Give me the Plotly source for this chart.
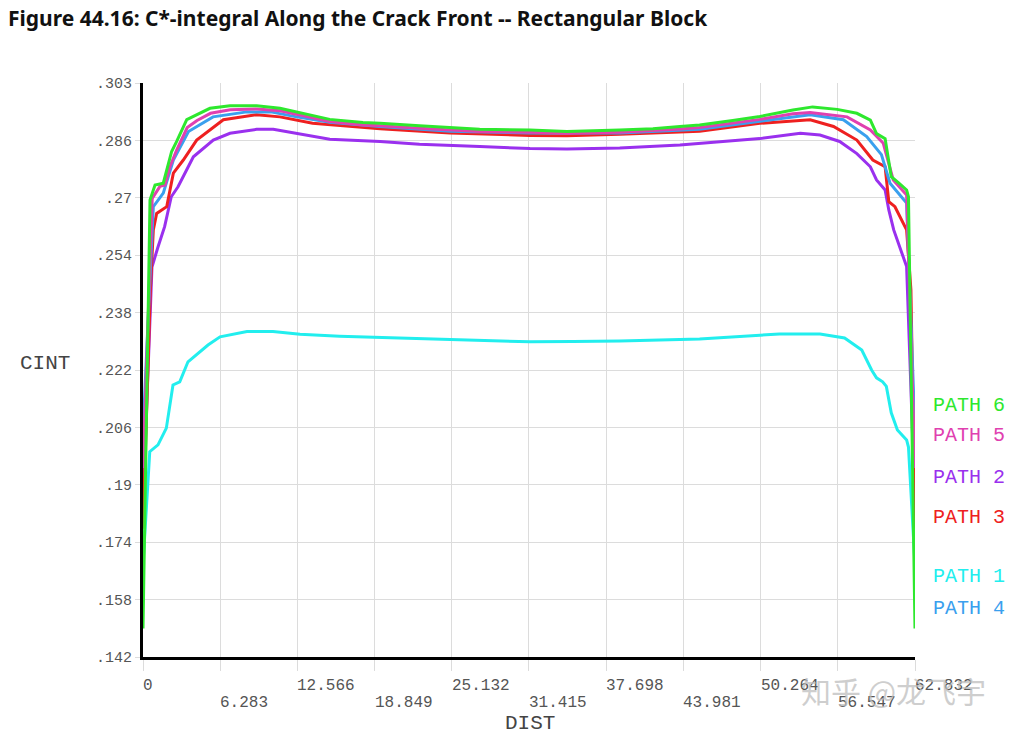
import plotly.graph_objects as go

# ---------------- data ----------------
path1_x = [0, 0.55, 1.22, 1.9, 2.44, 2.99, 3.66, 5.29, 6.27, 8.46, 10.58, 12.78, 16.0, 20.9, 26.0,
           31.5, 35.0, 38.8, 45.3, 51.8, 55.1, 57.1, 58.5, 59.3, 59.7, 60.2, 60.5, 60.9, 61.4,
           62.15, 62.3, 62.83]
path1_y = [0.168, 0.1996, 0.2015, 0.2062, 0.2183, 0.2192, 0.2248, 0.2295, 0.2318, 0.2333, 0.2333,
           0.2325, 0.2320, 0.2315, 0.2310, 0.2304, 0.2305, 0.2306, 0.2312, 0.2326, 0.2326, 0.2315,
           0.2281, 0.2225, 0.2203, 0.2192, 0.2179, 0.2105, 0.2057, 0.2029, 0.2009, 0.168]

path2_x = [0, 0.73, 1.22, 1.76, 2.3, 2.85, 4.1, 5.72, 7.08, 9.25, 10.6, 12.5, 15.2, 19.3, 22.5,
           27.4, 31.5, 34.5, 38.8, 43.7, 46.0, 50.2, 53.5, 55.1, 56.7, 58.1, 59.2, 59.7, 60.4,
           60.7, 61.1, 62.15, 62.83]
path2_y = [0.185, 0.2514, 0.2570, 0.2627, 0.2711, 0.2739, 0.2823, 0.2870, 0.2889, 0.2900, 0.2900,
           0.2889, 0.2872, 0.2866, 0.2858, 0.2852, 0.2846, 0.2845, 0.2848, 0.2856, 0.2862, 0.2874,
           0.2889, 0.2884, 0.2866, 0.2832, 0.2795, 0.2758, 0.2730, 0.2674, 0.2618, 0.2515, 0.185]

path3_x = [0, 0.6, 0.84, 1.11, 1.93, 2.47, 3.28, 4.37, 6.54, 9.25, 11.15, 13.8, 19.3, 25.0, 31.5,
           34.5, 38.8, 45.3, 50.2, 54.3, 56.2, 58.1, 59.4, 60.4, 60.7, 61.2, 62.15, 62.5, 62.83]
path3_y = [0.178, 0.245, 0.2618, 0.2664, 0.2683, 0.2777, 0.2814, 0.2870, 0.2927, 0.2941, 0.2935,
           0.2917, 0.2902, 0.2890, 0.2883, 0.2882, 0.2886, 0.2895, 0.2917, 0.2927, 0.2908, 0.2870,
           0.2814, 0.2795, 0.2697, 0.2683, 0.2618, 0.245, 0.178]

path4_x = [0, 0.84, 1.65, 2.47, 3.7, 5.7, 8.46, 10.4, 12.5, 15.2, 19.3, 25.0, 31.5, 38.8, 45.3,
           50.2, 54.3, 57.0, 58.9, 60.1, 60.8, 62.15, 62.83]
path4_y = [0.205, 0.2683, 0.2721, 0.2814, 0.2894, 0.2935, 0.2949, 0.2949, 0.2935, 0.2920, 0.2908,
           0.2895, 0.2890, 0.2890, 0.2900, 0.2922, 0.2941, 0.2927, 0.2880, 0.2829, 0.2749, 0.2693,
           0.205]

path5_x = [0, 0.75, 1.38, 1.79, 2.2, 2.74, 3.6, 4.4, 5.5, 7.1, 9.25, 11.15, 13.05, 15.2, 17.9,
           19.3, 22.5, 25.0, 27.4, 31.5, 34.5, 38.8, 41.5, 43.7, 45.3, 48.0, 50.2, 52.9, 54.3,
           57.3, 59.2, 60.25, 61.06, 62.15, 62.83]
path5_y = [0.195, 0.2706, 0.2740, 0.2744, 0.2796, 0.2842, 0.2905, 0.2925, 0.2945, 0.2955, 0.2957,
           0.2952, 0.2938, 0.2922, 0.2912, 0.2910, 0.2903, 0.2898, 0.2894, 0.2892, 0.2889, 0.2892,
           0.2896, 0.2901, 0.2905, 0.2917, 0.2928, 0.2944, 0.2947, 0.2935, 0.2898, 0.2861, 0.2758,
           0.2716, 0.195]

path6_x = [0, 0.57, 0.98, 1.65, 2.33, 2.74, 3.56, 4.37, 5.45, 7.08, 9.25, 11.15, 13.05, 15.2, 17.9,
           19.3, 22.5, 25.0, 27.4, 31.5, 34.5, 38.8, 41.5, 43.7, 45.3, 48.0, 50.2, 52.9, 54.5, 56.5,
           58.1, 59.2, 59.7, 60.4, 60.9, 61.5, 62.15, 62.3, 62.83]
path6_y = [0.150, 0.2702, 0.2744, 0.2749, 0.2838, 0.2866, 0.2927, 0.2941, 0.2959, 0.2966, 0.2966,
           0.2959, 0.2945, 0.2928, 0.2919, 0.2917, 0.2910, 0.2904, 0.2900, 0.2898, 0.2894, 0.2898,
           0.2902, 0.2908, 0.2912, 0.2925, 0.2936, 0.2954, 0.2963, 0.2956, 0.2945, 0.2926, 0.2888,
           0.2874, 0.2767, 0.2750, 0.2730, 0.2711, 0.150]

series_names = ["PATH 1", "PATH 2", "PATH 3", "PATH 4", "PATH 5", "PATH 6"]
series_colors = ["#22eeee", "#9a30ee", "#ee2020", "#3aa0ee", "#e040b0", "#2ee82e"]

# legend label order (top to bottom) as in the reference
legend_order = ["PATH 6", "PATH 5", "PATH 2", "PATH 3", "PATH 1", "PATH 4"]
legend_ypix = [406, 435, 477, 517, 576, 608]

x_tickvals = [0, 6.283, 12.566, 18.849, 25.132, 31.415, 37.698, 43.981, 50.264, 56.547, 62.832]
x_ticktext = ["0", "6.283", "12.566", "18.849", "25.132", "31.415", "37.698", "43.981", "50.264",
              "56.547", "62.832"]
y_tickvals = [0.142, 0.1581, 0.1742, 0.1903, 0.2064, 0.2225, 0.2386, 0.2547, 0.2708, 0.2869, 0.303]
y_ticktext = [".142", ".158", ".174", ".19", ".206", ".222", ".238", ".254", ".27", ".286", ".303"]

# ---------------- figure ----------------
OFF = 8                      # page body margin of the html page
W, H = 1014 - 2 * OFF, 737 - OFF
PL, PR, PT, PB = 143, 915, 83, 657   # plot area in screen pixels
L, T = PL - OFF, PT - OFF
R, B = W - (PR - OFF), H - (PB - OFF)
plot_w, plot_h = PR - PL, PB - PT
mono = "Liberation Mono, Courier New, monospace"


def px_x(px):
    return (px - PL) / plot_w


def px_y(py):
    return (PB - py) / plot_h


xs = [path1_x, path2_x, path3_x, path4_x, path5_x, path6_x]
ys = [path1_y, path2_y, path3_y, path4_y, path5_y, path6_y]

fig = go.Figure()
for name, color, x, y in zip(series_names, series_colors, xs, ys):
    fig.add_trace(go.Scatter(x=x, y=y, mode="lines", name=name,
                             line=dict(color=color, width=3), showlegend=False))

annotations = []
# series labels on the right
for name, py in zip(legend_order, legend_ypix):
    color = series_colors[series_names.index(name)]
    annotations.append(dict(text=name, xref="paper", yref="paper",
                            x=px_x(931), y=px_y(py),
                            xanchor="left", yanchor="middle", showarrow=False,
                            font=dict(family=mono, size=20, color=color)))

# staggered x tick labels, left aligned at the tick
for i, (v, t) in enumerate(zip(x_tickvals, x_ticktext)):
    py = 686 if i % 2 == 0 else 703
    annotations.append(dict(text=t, xref="x", yref="paper", x=v,
                            y=px_y(py), xanchor="left", yanchor="middle",
                            showarrow=False, xshift=-2,
                            font=dict(family=mono, size=16, color="#555555")))

# axis titles
annotations.append(dict(text="CINT", xref="paper", yref="paper",
                        x=px_x(18), y=px_y(363),
                        xanchor="left", yanchor="middle", showarrow=False,
                        font=dict(family=mono, size=21, color="#444444")))
annotations.append(dict(text="DIST", xref="paper", yref="paper",
                        x=px_x(530), y=px_y(723),
                        xanchor="center", yanchor="middle", showarrow=False,
                        font=dict(family=mono, size=21, color="#444444")))
# watermark
annotations.append(dict(text="知乎 @龙飞宇", xref="paper", yref="paper",
                        x=px_x(988), y=px_y(690),
                        xanchor="right", yanchor="middle", showarrow=False,
                        font=dict(family="Noto Sans CJK SC", size=30, color="rgba(190,190,190,0.75)")))

fig.update_layout(
    width=W, height=H,
    margin=dict(l=L, r=R, t=T, b=B, autoexpand=False),
    paper_bgcolor="white", plot_bgcolor="white",
    title=dict(text="<b>Figure 44.16: C*-integral Along the Crack Front -- Rectangular Block</b>",
               xref="container", yref="container", x=0.0, y=1 - (19 - OFF) / H,
               xanchor="left", yanchor="middle",
               font=dict(family="Noto Sans, sans-serif", size=21, color="#111111")),
    annotations=annotations,
)
fig.update_xaxes(range=[0, 62.832], tickvals=x_tickvals, ticktext=x_ticktext,
                 showticklabels=False, showgrid=True, gridcolor="#dcdcdc", gridwidth=1,
                 ticks="outside", ticklen=11, tickcolor="#dcdcdc", tickwidth=1,
                 showline=True, linecolor="black", linewidth=3, zeroline=False)
fig.update_yaxes(range=[0.142, 0.303], tickvals=y_tickvals, ticktext=y_ticktext,
                 showgrid=True, gridcolor="#dcdcdc", gridwidth=1,
                 ticks="outside", ticklen=5, tickcolor="#dcdcdc", tickwidth=1,
                 ticklabelstandoff=0,
                 showline=True, linecolor="black", linewidth=3, zeroline=False,
                 tickfont=dict(family=mono, size=15, color="#555555"))

fig.write_html("out.html")
